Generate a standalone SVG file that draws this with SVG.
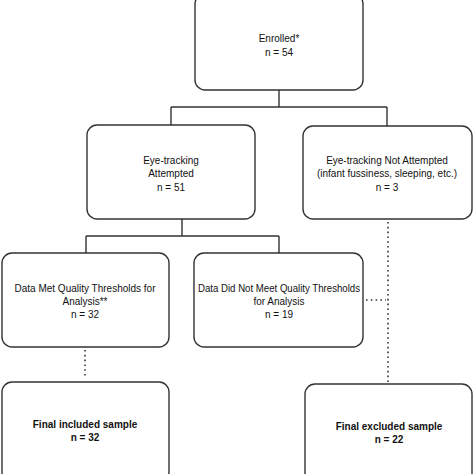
<svg xmlns="http://www.w3.org/2000/svg" width="474" height="474" viewBox="0 0 474 474">
<style>
.box{fill:#fff;stroke:#333;stroke-width:1.4}
.ln{fill:none;stroke:#333;stroke-width:1.4}
.dot{fill:none;stroke:#333;stroke-width:1.6;stroke-dasharray:1.6 3.2}
text{font-family:"Liberation Sans",Arial,sans-serif;font-size:10px;fill:#111;text-anchor:middle}
.b{font-weight:bold}
</style>
<rect width="474" height="474" fill="#fff"/>
<g id="connectors">
<path class="ln" d="M279 90V107M171 107H387M171 107V125M387 107V126"/>
<path class="ln" d="M182 219V236M86 236H279M86 236V253M279 236V253"/>
<path class="dot" d="M388 222V382M366 300H386M85 350V378"/>
</g>
<g id="enrolled">
<rect class="box" x="195" y="-6" width="168" height="96" rx="10"/>
<text x="279" y="42">Enrolled*</text>
<text x="279" y="56">n = 54</text>
</g>
<g id="attempted">
<rect class="box" x="87" y="125" width="168" height="94" rx="10"/>
<text x="171" y="164">Eye-tracking</text>
<text x="171" y="177">Attempted</text>
<text x="171" y="191">n = 51</text>
</g>
<g id="not-attempted">
<rect class="box" x="303" y="126" width="169" height="93" rx="10"/>
<text x="387" y="164">Eye-tracking Not Attempted</text>
<text x="387" y="177">(infant fussiness, sleeping, etc.)</text>
<text x="387" y="191">n = 3</text>
</g>
<g id="met">
<rect class="box" x="2" y="253" width="167" height="94" rx="10"/>
<text x="85" y="292">Data Met Quality Thresholds for</text>
<text x="85" y="305">Analysis**</text>
<text x="85" y="318">n = 32</text>
</g>
<g id="not-met">
<rect class="box" x="194" y="253" width="169" height="94" rx="10"/>
<text x="279" y="292" textLength="162" lengthAdjust="spacingAndGlyphs">Data Did Not Meet Quality Thresholds</text>
<text x="279" y="305">for Analysis</text>
<text x="279" y="318">n = 19</text>
</g>
<g id="included">
<rect class="box" x="2" y="382" width="167" height="100" rx="10"/>
<text class="b" x="85" y="428">Final included sample</text>
<text class="b" x="85" y="441">n = 32</text>
</g>
<g id="excluded">
<rect class="box" x="305" y="384" width="167" height="100" rx="10"/>
<text class="b" x="389" y="430">Final excluded sample</text>
<text class="b" x="389" y="443">n = 22</text>
</g>
</svg>
